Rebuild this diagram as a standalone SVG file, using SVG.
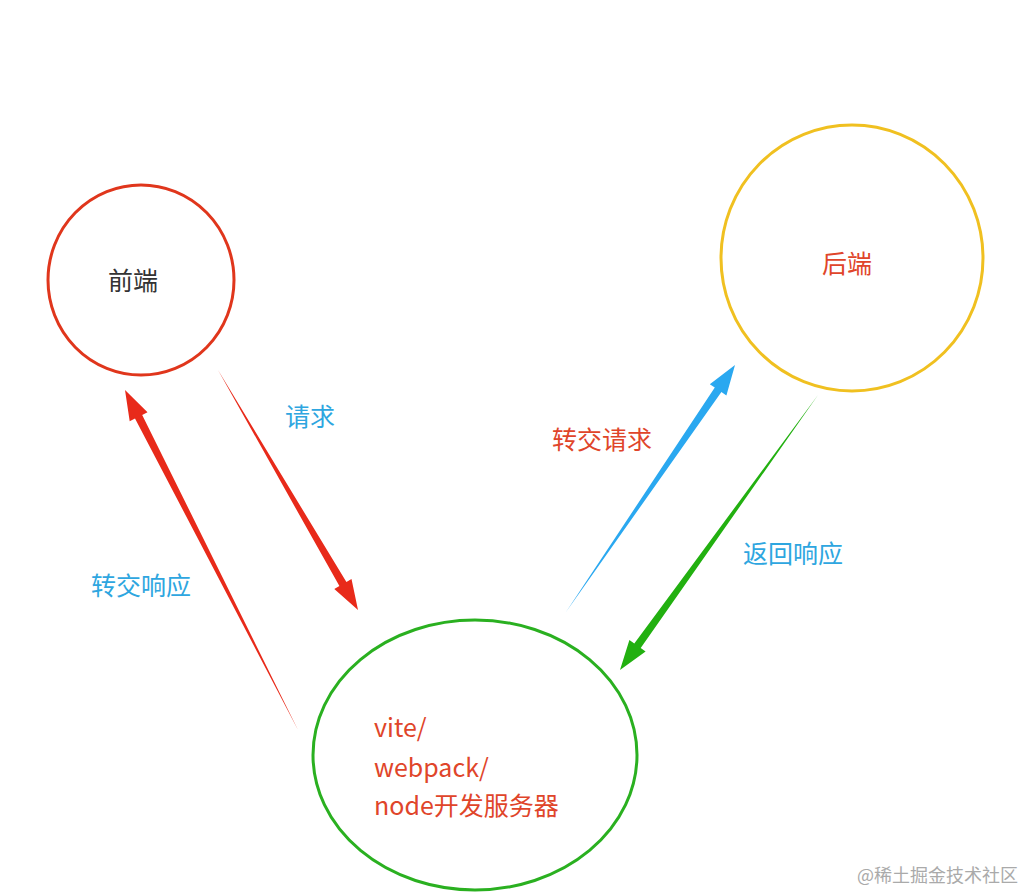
<svg xmlns="http://www.w3.org/2000/svg" width="1028" height="892" viewBox="0 0 1028 892">
<style>
text{font-family:"Noto Sans CJK SC","Liberation Sans",sans-serif;font-size:25px}
.b{fill:#2ea6e0}.r{fill:#e0452a}.k{fill:#333}
</style>
<rect width="1028" height="892" fill="#fff"/>
<g id="frontend"><ellipse cx="141" cy="280" rx="93" ry="95" fill="none" stroke="#e0361c" stroke-width="3"/><text class="k" x="133" y="290" text-anchor="middle">前端</text></g>
<g id="backend"><ellipse cx="852" cy="258" rx="131" ry="133" fill="none" stroke="#f0c020" stroke-width="3"/><text class="r" x="847" y="273" text-anchor="middle">后端</text></g>
<g id="devserver"><ellipse cx="475" cy="755" rx="162" ry="135" fill="none" stroke="#2ab020" stroke-width="3"/>
<text class="r" x="374" y="737">vite/</text><text class="r" x="374" y="777">webpack/</text><text class="r" x="374" y="815">node开发服务器</text></g>
<g id="connectors">
<polygon fill="#e82a1a" points="218,370 346.4,582.1 351.5,579.1 358,610 334.3,589.1 339.4,586.1"/>
<polygon fill="#e82a1a" points="298,730 142.2,414.9 147.5,412.2 125,390 129.7,421.2 135,418.5"/>
<polygon fill="#2aa8f0" points="566,612 721.4,392.1 726.4,395.4 735,365 709.8,384.2 714.8,387.5"/>
<polygon fill="#22b010" points="818,395 640.7,648 645.6,651.5 620,670 629.4,639.9 634.3,643.4"/>
</g>
<text class="b" x="310" y="426" text-anchor="middle">请求</text>
<text class="b" x="141" y="595" text-anchor="middle">转交响应</text>
<text class="r" x="602" y="449" text-anchor="middle">转交请求</text>
<text class="b" x="793" y="563" text-anchor="middle">返回响应</text>
<text x="1018" y="882" text-anchor="end" style="font-size:18px;fill:#aaa">@稀土掘金技术社区</text>
</svg>
